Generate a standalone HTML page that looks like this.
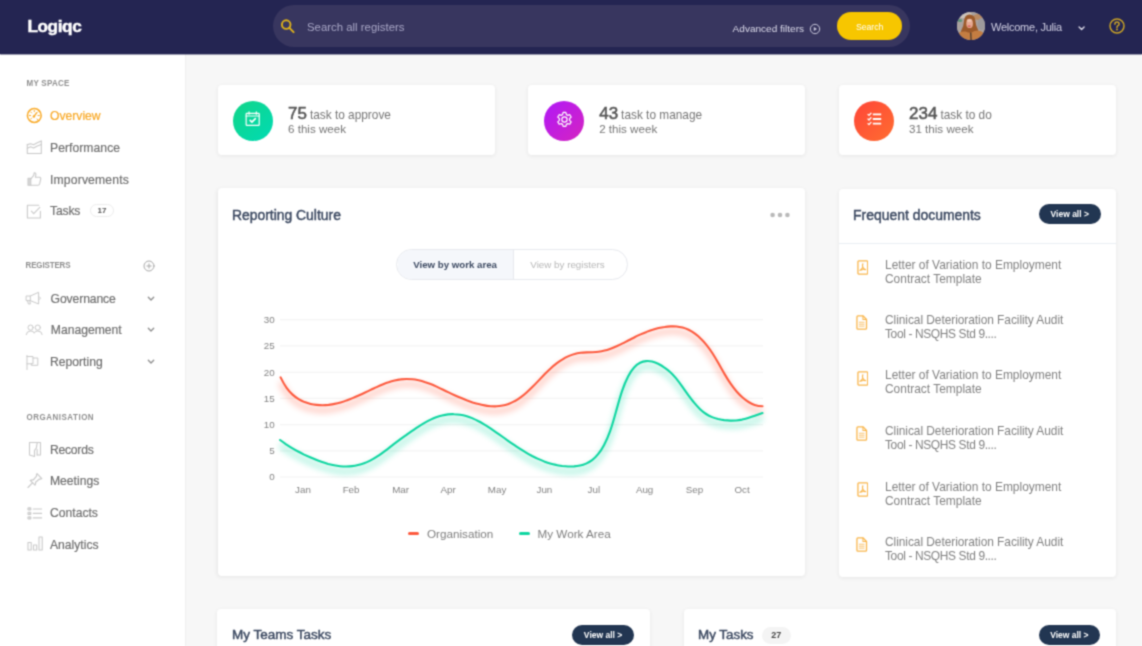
<!DOCTYPE html>
<html lang="en">
<head>
<meta charset="utf-8">
<title>Logiqc – Overview</title>
<style>
*{box-sizing:border-box;margin:0;padding:0}
html,body{width:1142px;height:646px;overflow:hidden;background:#fff}
body{font-family:"Liberation Sans",sans-serif;color:#7a7a7a}
ul{list-style:none}
h2,h6{font-weight:700}
.frame{position:absolute;left:0;top:0;width:1142px;height:646px;overflow:hidden;background:#f7f7f7}
.app{position:absolute;left:-10px;top:-10px;width:1162px;height:666px;overflow:hidden;background:#f7f7f7;filter:url(#soften)}
.stage{position:absolute;left:10px;top:10px;width:1142px;height:646px}
.corner{position:absolute;top:0;width:20px;height:20px}
.corner.tl{left:0;background:radial-gradient(circle at 20px 20px,rgba(255,255,255,0) 9.6px,#fff 10.4px)}
.corner.tr{right:0;background:radial-gradient(circle at 0 20px,rgba(255,255,255,0) 9.6px,#fff 10.4px)}
.abs{position:absolute;white-space:nowrap;line-height:1}

/* ---------- header ---------- */
.topbar{position:absolute;left:0;top:0;width:1142px;height:54px;background:#242552;box-shadow:0 1px 0 rgba(36,37,82,.45);z-index:2}
.topbar:before{content:"";position:absolute;left:-10px;top:-10px;width:1162px;height:64px;background:#242552}
.logo{left:27.4px;top:18px;font-size:17.2px;font-weight:700;color:#fff;letter-spacing:-.4px;-webkit-text-stroke:.45px #fff}
.search{position:absolute;left:273px;top:5px;width:637px;height:42px;border-radius:21px;background:#38365f}
.search svg.mag{position:absolute;left:7px;top:13px}
.search .ph{left:34px;top:17px;font-size:11.4px;color:#a9a7c6}
.search .adv{left:459.6px;top:18px;font-size:10.05px;color:#dcdbea;transform:translateY(.5px) scaleY(.88);transform-origin:0 85%}
.search svg.go{position:absolute;left:536px;top:17.5px}
.search .btn{position:absolute;left:564px;top:7px;width:65.3px;height:28px;border-radius:14px;background:#f7c600;color:#fff;font-size:8.7px;line-height:30px;text-align:center}
.avatar{position:absolute;left:957px;top:12px;width:28px;height:28px;border-radius:50%;overflow:hidden}
.welcome{left:991px;top:22px;font-size:11px;letter-spacing:-.25px;color:#cfcee2}
.topbar svg.chev{position:absolute;left:1078px;top:26px}
.topbar svg.help{position:absolute;left:1108px;top:17px}

/* ---------- sidebar ---------- */
.side{position:absolute;left:0;top:54px;width:186px;height:592px;background:#fff;border-right:1px solid #efefef}
.side:before{content:"";position:absolute;left:-10px;top:0;width:10px;height:602px;background:#fff}
.side:after{content:"";position:absolute;left:0;top:592px;width:185px;height:10px;background:#fff}
.side h6{position:absolute;left:26.5px;font-size:8px;letter-spacing:.6px;color:#8f8f8f;line-height:1;white-space:nowrap;transform:translateY(.3px) scaleY(1.2);transform-origin:0 55%}
.side li{position:absolute;left:0;width:185px;height:32px}
.side li svg{position:absolute;left:25px;top:7px}
.side li span.t{position:absolute;left:50px;top:10px;font-size:12.15px;line-height:1;color:#707070;white-space:nowrap;-webkit-text-stroke:.2px currentColor}
.side li.on span.t{color:#f8a825}
.side li svg.dn{left:147px;top:13px}
.side svg.plus{position:absolute;left:143px;top:206px}
.side .pill{position:absolute;left:90px;top:9px;width:24px;height:13px;border:1px solid #ececec;border-radius:7px;font-size:8px;font-weight:700;color:#555;text-align:center;line-height:11px}

/* ---------- cards ---------- */
.card{position:absolute;background:#fff;border-radius:4px;box-shadow:0 1px 4px rgba(0,0,0,.075)}
.stat{top:85px;width:277px;height:70px}
.stat .ic{position:absolute;left:15px;top:15.5px;width:40px;height:40px;border-radius:50%}
.stat .ic svg{position:absolute;left:12px;top:12px}
.stat .l1{left:70px;top:19.5px;font-size:17px;color:#585858;font-weight:400;-webkit-text-stroke:.55px #585858}
.stat .l1 span{font-size:11.85px;font-weight:400;color:#767676;margin-left:3px;-webkit-text-stroke:0}
.stat .l2{left:70px;top:38px;font-size:11.6px;color:#767676}
.ttl{font-size:13.6px;font-weight:400;color:#3d4a62;-webkit-text-stroke:.45px #3d4a62}
.viewall{position:absolute;width:61.5px;height:19.5px;border-radius:10px;background:#223652;color:#fff;font-size:8.5px;font-weight:700;line-height:21px;text-align:center;white-space:nowrap}
.badge{position:absolute;left:78px;top:18px;width:28.5px;height:17px;border-radius:8.5px;background:#f4f4f4;color:#444;font-size:9px;font-weight:700;line-height:17px;text-align:center}

/* ---------- chart ---------- */
#chart svg.dots{position:absolute;left:552px;top:24.3px;fill:#b9b9b9}
#chart svg.plot{position:absolute;left:0;top:0}
.toggle{position:absolute;left:178px;top:61px;width:232px;height:31px;border:1px solid #e7e9ee;border-radius:15.5px;overflow:hidden;font-size:10px;line-height:29px;white-space:nowrap}
.toggle span{position:absolute;top:0;height:29px;width:116px;text-align:center;font-size:9.8px}
.toggle .a{left:.6px;font-size:9.7px;background:#f5f7fb;border-right:1px solid #e7e9ee;color:#3d4a62;font-weight:700}
.toggle .b{left:113.5px;color:#b7b7b7;width:114px}
.legend{position:absolute;left:0;top:340px;width:587px;height:14px;font-size:11.7px;color:#7f7f7f}
.legend i{position:absolute;top:4.3px;width:11px;height:3px;border-radius:1.5px}

/* ---------- docs ---------- */
#docs:before{content:"";position:absolute;left:0;top:54px;width:277px;height:1px;background:#e9eef4}
.doclist li{position:absolute;left:0;width:277px;height:30px}
.doclist li svg{position:absolute;left:17px;top:.5px}
.doclist li p{position:absolute;left:46px;top:0;font-size:11.95px;line-height:14px;color:#828282;white-space:nowrap}

</style>
</head>
<body>
<svg width="0" height="0" style="position:absolute" aria-hidden="true"><defs><filter id="soften" x="0" y="0" width="100%" height="100%" color-interpolation-filters="sRGB"><feConvolveMatrix order="3" kernelMatrix="0.0400 0.1200 0.0400 0.1200 0.3600 0.1200 0.0400 0.1200 0.0400" divisor="1" edgeMode="duplicate" preserveAlpha="true"/></filter></defs></svg>
<div class="frame">
<div class="app">
<div class="stage">

<!-- HEADER -->
<header class="topbar">
  <div class="abs logo">Logiqc</div>
  <form class="search" onsubmit="return false">
    <svg class="mag" width="16" height="16" viewBox="0 0 16 16"><circle cx="6.2" cy="6.6" r="4.3" fill="none" stroke="#dcb01c" stroke-width="1.9"/><path d="M9.4 9.9 L13.6 14.1" stroke="#dcb01c" stroke-width="2" stroke-linecap="round"/></svg>
    <span class="abs ph">Search all registers</span>
    <span class="abs adv">Advanced filters</span>
    <svg class="go" width="12" height="12" viewBox="0 0 12 12"><circle cx="6" cy="6" r="4.7" fill="none" stroke="#c9c8dc" stroke-width="1"/><path d="M4.8 3.9 L8 6 L4.8 8.1 Z" fill="#c9c8dc"/></svg>
    <span class="btn">Search</span>
  </form>
  <div class="avatar">
    <svg width="28" height="28" viewBox="0 0 28 28">
      <defs><filter id="soft" x="-20%" y="-20%" width="140%" height="140%"><feGaussianBlur stdDeviation=".75"/></filter></defs>
      <rect width="28" height="28" fill="#a9a19d"/>
      <g filter="url(#soft)">
        <rect x="-2" y="-2" width="32" height="32" fill="#aaa29f"/>
        <ellipse cx="8" cy="3" rx="7" ry="3.5" fill="#cbc3bb"/>
        <ellipse cx="21" cy="5" rx="5" ry="3" fill="#b98a62"/>
        <ellipse cx="3" cy="8.500" rx="2.200" ry="1.600" fill="#5e957a"/>
        <ellipse cx="24.500" cy="12" rx="4" ry="6" fill="#9d9a9c"/>
        <path d="M12.600 2.600 Q7.400 2.800 7 9 Q6.800 14 4.200 18.500 Q3 21 5.500 22 L20 22 Q22.500 20 20.500 16.500 Q18.600 13 18.400 9 Q18 2.800 12.600 2.600Z" fill="#9c5a2b"/>
        <path d="M-1 29 L0 22.500 Q3 18.800 8.500 19.600 Q13 22 17.500 19 Q23.500 17.500 27 21.500 L29 29Z" fill="#c37d42"/>
        <ellipse cx="12.600" cy="11.400" rx="3.300" ry="4.700" fill="#e6aa94"/>
        <ellipse cx="12.300" cy="8.400" rx="2.600" ry="1.500" fill="#efc3ae"/>
        <ellipse cx="12.200" cy="14.300" rx="1.700" ry="1" fill="#d9675f"/>
        <path d="M13.700 20.500 L14.100 28" stroke="#4b3a2e" stroke-width="1.300" fill="none"/>
      </g>
    </svg>
  </div>
  <div class="abs welcome">Welcome, Julia</div>
  <svg class="chev" width="7.2" height="5.4" viewBox="0 0 8 6"><path d="M1.2 1.2 L4 4 L6.8 1.2" fill="none" stroke="#d8d7e6" stroke-width="1.5" stroke-linecap="round" stroke-linejoin="round"/></svg>
  <svg class="help" width="18" height="18" viewBox="0 0 18 18"><circle cx="9" cy="9" r="7" fill="none" stroke="#c9a227" stroke-width="1.5"/><path d="M6.9 7.2 Q6.9 5.1 9 5.1 Q11.1 5.1 11.1 6.9 Q11.1 8.1 9.9 8.7 Q9 9.2 9 10.4" fill="none" stroke="#c9a227" stroke-width="1.5" stroke-linecap="round"/><circle cx="9" cy="12.6" r="1" fill="#c9a227"/></svg>
</header>

<!-- SIDEBAR -->
<nav class="side">
  <h6 style="top:25px;letter-spacing:.25px">MY SPACE</h6>
  <ul>
    <li class="on" style="top:46px"><svg width="18" height="18" viewBox="0 0 18 18" fill="none" stroke="#f9ab2a" stroke-width="1.5" stroke-linecap="round" stroke-linejoin="round"><circle cx="9.3" cy="8.500" r="6.900"/><path d="M9 9.300 L11.600 5.800" stroke-width="1.400"/><circle cx="8.900" cy="9.400" r="1.250" fill="#f9ab2a" stroke="none"/><path d="M4.300 8.500h1.300M13 8.500h1.300M9.300 3.500v1.200M5.700 5l.9.900M5.700 12l.9-.9M12 12l.9.900M12.600 5.300l.4-.400" stroke-width="1"/></svg><span class="t">Overview</span></li>
    <li style="top:78px"><svg style="top:6.400px" width="18" height="18" viewBox="0 0 18 18" fill="none" stroke="#cacaca" stroke-width="1.1" stroke-linecap="round" stroke-linejoin="round"><path d="M2.300 6.500v9h14V3"/><path d="M2.300 6.600 L5.600 5.700 L8.600 6.800 L12.300 4.800 L16.300 3" /><path d="M2.300 10.200 L5.600 8.800 L8.600 10 L12.300 8 L16.300 6.600"/></svg><span class="t" style="letter-spacing:.05px">Performance</span></li>
    <li style="top:110px"><svg style="top:6.300px" width="18" height="18" viewBox="0 0 18 18" fill="none" stroke="#cacaca" stroke-width="1.1" stroke-linecap="round" stroke-linejoin="round"><path d="M3 8.300h2.800v7H3z" fill="#d6d6d6"/><path d="M5.800 8.800 L8.600 5.600 L9.200 2.800 Q10.900 2.500 10.900 4.500 L10.400 7.300 H14.600 Q16.100 7.600 15.700 9.200 L14.600 13.900 Q14.200 15.300 12.900 15.300 H5.800"/></svg><span class="t" style="letter-spacing:.17px">Imporvements</span></li>
    <li style="top:141px"><svg width="18" height="18" viewBox="0 0 18 18" fill="none" stroke="#cacaca" stroke-width="1.1" stroke-linecap="round" stroke-linejoin="round"><path d="M15.400 9.300V16H2.400V3.200h11.400"/><path d="M6.400 9.200 L8.700 11.700 L14.800 5.400"/></svg><span class="t" style="letter-spacing:-.15px">Tasks</span><span class="pill">17</span></li>
  </ul>
  <h6 style="top:207px;letter-spacing:-.15px;left:25.5px">REGISTERS</h6>
  <svg class="plus" width="12" height="12" viewBox="0 0 12 12" fill="none" stroke="#a9a9a9" stroke-width="1" stroke-linecap="round"><circle cx="6" cy="6" r="5"/><path d="M6 3.8v4.4M3.8 6h4.4"/></svg>
  <ul>
    <li style="top:229px"><svg style="top:6.300px" width="18" height="18" viewBox="0 0 18 18" fill="none" stroke="#cacaca" stroke-width="1" stroke-linecap="round" stroke-linejoin="round"><path d="M1.500 7h3.800v4.600H1.500z"/><path d="M5.300 7 L13.600 3.300 V15 L5.300 11.600"/><path d="M14.800 8 Q16.200 9.200 14.800 10.400"/><path d="M2.600 11.800 L3.400 15 H5.300 L4.900 11.800"/></svg><span class="t" style="left:50.6px;letter-spacing:-.1px">Governance</span><svg class="dn" width="8" height="6" viewBox="0 0 8 6"><path d="M1.3 1.3 L4 4 L6.7 1.3" fill="none" stroke="#8d8d8d" stroke-width="1.3" stroke-linecap="round" stroke-linejoin="round"/></svg></li>
    <li style="top:260px"><svg width="18" height="18" viewBox="0 0 18 18" fill="none" stroke="#cacaca" stroke-width="1" stroke-linecap="round" stroke-linejoin="round"><circle cx="5.6" cy="6.6" r="2.6"/><circle cx="12.8" cy="6.6" r="2.6"/><path d="M1.2 13.6 Q1.6 10 5.6 10 Q9 10 9.2 12.2 Q9.6 10 12.8 10 Q16.8 10 17.2 13.6"/></svg><span class="t" style="left:50.8px">Management</span><svg class="dn" width="8" height="6" viewBox="0 0 8 6"><path d="M1.3 1.3 L4 4 L6.7 1.3" fill="none" stroke="#8d8d8d" stroke-width="1.3" stroke-linecap="round" stroke-linejoin="round"/></svg></li>
    <li style="top:292px"><svg width="18" height="18" viewBox="0 0 18 18" fill="none" stroke="#cacaca" stroke-width="1" stroke-linecap="round" stroke-linejoin="round"><path d="M2 2.5v14"/><path d="M2 3.5h6v7.3H2"/><path d="M8 5h4.8v7.3H6.3v-1.5"/></svg><span class="t">Reporting</span><svg class="dn" width="8" height="6" viewBox="0 0 8 6"><path d="M1.3 1.3 L4 4 L6.7 1.3" fill="none" stroke="#8d8d8d" stroke-width="1.3" stroke-linecap="round" stroke-linejoin="round"/></svg></li>
  </ul>
  <h6 style="top:359px;letter-spacing:.5px">ORGANISATION</h6>
  <ul>
    <li style="top:380px"><svg style="left:25.700px;top:6.300px" width="18" height="18" viewBox="0 0 18 18" fill="none" stroke="#cacaca" stroke-width="1.1" stroke-linecap="round" stroke-linejoin="round"><path d="M3.500 2.500h11v12.500h-3.400"/><path d="M3.500 2.500v12.500l5 1.500v-6l1.800-2.400 L11.200 2.800"/><path d="M11.100 15V9.500"/></svg><span class="t" style="letter-spacing:-.25px">Records</span></li>
    <li style="top:411px"><svg style="left:26.400px;top:6px" width="18" height="18" viewBox="0 0 18 18" fill="none" stroke="#cacaca" stroke-width="1.15" stroke-linecap="round" stroke-linejoin="round"><path d="M2 16.500 L6.600 11.600"/><path d="M4.200 9.400 L9 14.200 Q9.900 12.600 9.600 11.200 L13.400 8 Q14.600 8.400 15.800 7.600 L11 2.600 Q10 3.800 10.600 5.200 L7.200 9 Q5.600 8.600 4.200 9.400Z"/></svg><span class="t">Meetings</span></li>
    <li style="top:443px"><svg style="left:26px;top:6.800px" width="18" height="18" viewBox="0 0 18 18" fill="none" stroke="#cacaca" stroke-width="1.1" stroke-linecap="round" stroke-linejoin="round"><path d="M2.300 3.800h2.600v2.200H2.300zM2.300 8.300h2.600v2.200H2.300zM2.300 12.800h2.600v2.200H2.300z" stroke-width="1" fill="#d9d9d9"/><path d="M7.300 5h8.300M7.300 9.400h8.300M7.300 13.900h8.300"/></svg><span class="t">Contacts</span></li>
    <li style="top:475px"><svg style="left:26px;top:5px" width="18" height="18" viewBox="0 0 18 18" fill="none" stroke="#cacaca" stroke-width="1.1" stroke-linecap="round" stroke-linejoin="round"><path d="M2 8.500h3.200v7.500H2zM7.500 11h3.200v5H7.500zM13 3h3.200v13H13z"/></svg><span class="t">Analytics</span></li>
  </ul>
</nav>

<!-- MAIN -->
<main>
  <section class="card stat" style="left:218px">
    <div class="ic" style="background:linear-gradient(135deg,#12d588,#00dbb4)"><svg style="left:12.3px;top:10.8px" width="15.36" height="15.36" viewBox="0 0 16 16" fill="none" stroke="#ffffff" stroke-width="1.25" stroke-linecap="round" stroke-linejoin="round"><rect x="1.2" y="2.4" width="13.6" height="12.6" rx=".8"/><path d="M1.2 5.2h13.6M4.2 1v2.4M11.8 1v2.4"/><path d="M5.4 9.8 L7.2 11.6 L10.8 8" stroke-width="1.7"/></svg></div>
    <div class="abs l1">75<span>task to approve</span></div>
    <div class="abs l2">6 this week</div>
  </section>
  <section class="card stat" style="left:528.2px">
    <div class="ic" style="left:16px;background:linear-gradient(135deg,#b018f8,#d524c0)"><svg style="left:12.2px;top:10.9px" width="16.96" height="16.96" viewBox="0 0 16 16" fill="none" stroke="#ffffff" stroke-width="1.15" stroke-linecap="round" stroke-linejoin="round"><circle cx="8" cy="8" r="2.5"/><path d="M6.7 1.4h2.6l.5 2 1.2.7 2-.6 1.3 2.2-1.5 1.5v1.6l1.5 1.5-1.3 2.2-2-.6-1.2.7-.5 2H6.700l-.5-2-1.2-.7-2 .6-1.300-2.200 1.500-1.500V7.200L1.700 5.700 3 3.500l2 .6 1.200-.7z"/></svg></div>
    <div class="abs l1" style="left:71px">43<span>task to manage</span></div>
    <div class="abs l2" style="left:71px">2 this week</div>
  </section>
  <section class="card stat" style="left:839px">
    <div class="ic" style="background:linear-gradient(135deg,#ff4538,#ff6d30)"><svg style="left:12.7px;top:10.6px" width="16" height="16" viewBox="0 0 16 16" fill="none" stroke="#ffffff" stroke-width="1.2" stroke-linecap="round" stroke-linejoin="round"><path d="M5.800 3.400h8.400M5.800 8h8.400M5.800 12.600h8.400" stroke-width="1.800" stroke-linecap="butt"/><path d="M1 3.400l1 1 2-2.200M1 8l1 1 2-2.200M1 12.600l1 1 2-2.200" stroke-width="1.300"/></svg></div>
    <div class="abs l1">234<span>task to do</span></div>
    <div class="abs l2">31 this week</div>
  </section>

  <section class="card" id="chart" style="left:218px;top:188px;width:587px;height:388px;box-shadow:-.5px 1px 4px rgba(0,0,0,.075)">
    <h2 class="abs ttl" style="left:14px;top:21px;font-size:13.9px">Reporting Culture</h2>
    <svg class="dots" width="20" height="6" viewBox="0 0 20 6"><circle cx="2.6" cy="3" r="2.3"/><circle cx="10" cy="3" r="2.3"/><circle cx="17.4" cy="3" r="2.3"/></svg>
    <div class="toggle"><span class="a">View by work area</span><span class="b">View by registers</span></div>
    <svg class="plot" width="587" height="388" viewBox="0 0 587 388">
      <defs>
        <filter id="glow" x="-5%" y="-30%" width="110%" height="180%"><feGaussianBlur stdDeviation="3.2"/></filter>
      </defs>
      <g font-family="Liberation Sans, sans-serif" font-size="9.8" fill="#838383">
      <line x1="62" y1="131.6" x2="545" y2="131.6" stroke="#f4f4f4" stroke-width="1.2"/>
      <text x="56.7" y="134.8" text-anchor="end">30</text>
      <line x1="62" y1="157.9" x2="545" y2="157.9" stroke="#f4f4f4" stroke-width="1.2"/>
      <text x="56.7" y="161.1" text-anchor="end">25</text>
      <line x1="62" y1="184.3" x2="545" y2="184.3" stroke="#f4f4f4" stroke-width="1.2"/>
      <text x="56.7" y="187.5" text-anchor="end">20</text>
      <line x1="62" y1="210.4" x2="545" y2="210.4" stroke="#f4f4f4" stroke-width="1.2"/>
      <text x="56.7" y="213.6" text-anchor="end">15</text>
      <line x1="62" y1="236.6" x2="545" y2="236.6" stroke="#f4f4f4" stroke-width="1.2"/>
      <text x="56.7" y="239.8" text-anchor="end">10</text>
      <line x1="62" y1="262.8" x2="545" y2="262.8" stroke="#f4f4f4" stroke-width="1.2"/>
      <text x="56.7" y="266.0" text-anchor="end">5</text>
      <line x1="62" y1="289.0" x2="545" y2="289.0" stroke="#f4f4f4" stroke-width="1.2"/>
      <text x="56.7" y="292.2" text-anchor="end">0</text>
      <text x="85" y="305.3" text-anchor="middle">Jan</text>
      <text x="133.1" y="305.3" text-anchor="middle">Feb</text>
      <text x="182.6" y="305.3" text-anchor="middle">Mar</text>
      <text x="230.1" y="305.3" text-anchor="middle">Apr</text>
      <text x="279.1" y="305.3" text-anchor="middle">May</text>
      <text x="326.4" y="305.3" text-anchor="middle">Jun</text>
      <text x="375.8" y="305.3" text-anchor="middle">Jul</text>
      <text x="426.6" y="305.3" text-anchor="middle">Aug</text>
      <text x="476.4" y="305.3" text-anchor="middle">Sep</text>
      <text x="524" y="305.3" text-anchor="middle">Oct</text>
      </g>
      <path d="M62.6 189.4 C64.6 193.6 66.6 197.0 68.6 199.8 C70.6 202.6 72.6 204.8 74.6 206.6 C76.6 208.4 78.6 209.9 80.6 211.1 C82.6 212.3 84.6 213.3 86.6 214.1 C88.6 214.8 90.6 215.4 92.6 215.9 C94.6 216.4 96.6 216.7 98.6 216.9 C100.6 217.1 102.6 217.2 104.6 217.2 C106.6 217.2 108.6 217.1 110.6 216.9 C112.6 216.6 114.6 216.3 116.6 215.9 C118.6 215.5 120.6 215.0 122.6 214.4 C124.6 213.8 126.6 213.2 128.6 212.4 C130.6 211.7 132.6 210.9 134.6 210.1 C136.6 209.3 138.6 208.4 140.6 207.5 C142.6 206.6 144.6 205.7 146.6 204.7 C148.6 203.8 150.6 202.9 152.6 201.9 C154.6 201.0 156.6 200.0 158.6 199.1 C160.6 198.2 162.6 197.3 164.6 196.5 C166.6 195.7 168.6 194.9 170.6 194.3 C172.6 193.6 174.6 193.0 176.6 192.5 C178.6 192.0 180.6 191.6 182.6 191.4 C184.6 191.1 186.6 191.0 188.6 191.0 C190.6 191.0 192.6 191.1 194.6 191.3 C196.6 191.5 198.6 191.9 200.6 192.3 C202.6 192.7 204.6 193.2 206.6 193.9 C208.6 194.5 210.6 195.2 212.6 196.0 C214.6 196.8 216.6 197.7 218.6 198.6 C220.6 199.6 222.6 200.6 224.6 201.5 C226.6 202.5 228.6 203.5 230.6 204.4 C232.6 205.4 234.6 206.3 236.6 207.2 C238.6 208.1 240.6 209.0 242.6 209.8 C244.6 210.7 246.6 211.5 248.6 212.3 C250.6 213.0 252.6 213.7 254.6 214.4 C256.6 215.0 258.6 215.6 260.6 216.1 C262.6 216.7 264.6 217.1 266.6 217.4 C268.6 217.8 270.6 218.0 272.6 218.2 C274.6 218.3 276.6 218.4 278.6 218.3 C280.6 218.2 282.6 217.9 284.6 217.5 C286.6 217.2 288.6 216.6 290.6 215.9 C292.6 215.2 294.6 214.3 296.6 213.2 C298.6 212.2 300.6 210.9 302.6 209.4 C304.6 207.9 306.6 206.3 308.6 204.5 C310.6 202.7 312.6 200.8 314.6 198.8 C316.6 196.8 318.6 194.7 320.6 192.6 C322.6 190.5 324.6 188.4 326.6 186.3 C328.6 184.3 330.6 182.3 332.6 180.5 C334.6 178.6 336.6 176.9 338.6 175.4 C340.6 173.9 342.6 172.5 344.6 171.3 C346.6 170.0 348.6 169.0 350.6 168.1 C352.6 167.2 354.6 166.4 356.6 165.9 C358.6 165.3 360.6 165.0 362.6 164.8 C364.6 164.6 366.6 164.5 368.6 164.4 C370.6 164.4 372.6 164.4 374.6 164.3 C376.6 164.2 378.6 164.1 380.6 163.8 C382.6 163.5 384.6 163.1 386.6 162.6 C388.6 162.1 390.6 161.4 392.6 160.7 C394.6 160.0 396.6 159.1 398.6 158.2 C400.6 157.3 402.6 156.4 404.6 155.4 C406.6 154.4 408.6 153.3 410.6 152.3 C412.6 151.3 414.6 150.2 416.6 149.2 C418.6 148.2 420.6 147.3 422.6 146.4 C424.6 145.5 426.6 144.6 428.6 143.9 C430.6 143.1 432.6 142.4 434.6 141.8 C436.6 141.1 438.6 140.6 440.6 140.1 C442.6 139.6 444.6 139.2 446.6 139.0 C448.6 138.7 450.6 138.5 452.6 138.4 C454.6 138.3 456.6 138.3 458.6 138.5 C460.6 138.7 462.6 139.1 464.6 139.6 C466.6 140.1 468.6 140.9 470.6 141.8 C472.6 142.8 474.6 144.0 476.6 145.4 C478.6 146.8 480.6 148.5 482.6 150.5 C484.6 152.4 486.6 154.6 488.6 157.1 C490.6 159.6 492.6 162.4 494.6 165.5 C496.6 168.6 498.6 172.0 500.6 175.5 C502.6 179.1 504.6 182.7 506.6 186.1 C508.6 189.5 510.6 192.8 512.6 195.7 C514.6 198.6 516.6 201.2 518.6 203.5 C520.6 205.8 522.6 207.8 524.6 209.5 C526.6 211.3 528.6 212.8 530.6 214.0 C532.6 215.2 534.6 216.2 536.6 216.9 C539.2 217.8 541.9 218.2 544.5 218.2" fill="none" stroke="#ff5a3c" stroke-width="5" opacity=".33" transform="translate(0,5)" filter="url(#glow)"/>
      <path d="M62.1 252.0 C64.1 253.5 66.1 254.9 68.1 256.3 C70.1 257.6 72.1 258.9 74.1 260.1 C76.1 261.3 78.1 262.5 80.1 263.5 C82.1 264.6 84.1 265.6 86.1 266.6 C88.1 267.5 90.1 268.4 92.1 269.3 C94.1 270.2 96.1 271.0 98.1 271.8 C100.1 272.6 102.1 273.3 104.1 274.0 C106.1 274.7 108.1 275.3 110.1 275.9 C112.1 276.4 114.1 276.9 116.1 277.3 C118.1 277.7 120.1 278.0 122.1 278.2 C124.1 278.4 126.1 278.5 128.1 278.5 C130.1 278.5 132.1 278.4 134.1 278.1 C136.1 277.9 138.1 277.5 140.1 277.0 C142.1 276.5 144.1 275.9 146.1 275.2 C148.1 274.5 150.1 273.6 152.1 272.6 C154.1 271.6 156.1 270.5 158.1 269.2 C160.1 268.0 162.1 266.6 164.1 265.1 C166.1 263.7 168.1 262.1 170.1 260.6 C172.1 259.0 174.1 257.4 176.1 255.9 C178.1 254.4 180.1 252.9 182.1 251.4 C184.1 249.9 186.1 248.5 188.1 247.1 C190.1 245.6 192.1 244.2 194.1 242.8 C196.1 241.5 198.1 240.1 200.1 238.8 C202.1 237.5 204.1 236.3 206.1 235.1 C208.1 234.0 210.1 232.9 212.1 231.9 C214.1 231.0 216.1 230.1 218.1 229.3 C220.1 228.6 222.1 228.0 224.1 227.5 C226.1 227.0 228.1 226.6 230.1 226.4 C232.1 226.2 234.1 226.1 236.1 226.2 C238.1 226.2 240.1 226.4 242.1 226.7 C244.1 227.0 246.1 227.4 248.1 228.0 C250.1 228.6 252.1 229.3 254.1 230.1 C256.1 231.0 258.1 231.9 260.1 233.0 C262.1 234.0 264.1 235.2 266.1 236.4 C268.1 237.6 270.1 238.9 272.1 240.2 C274.1 241.5 276.1 242.9 278.1 244.3 C280.1 245.7 282.1 247.1 284.1 248.5 C286.1 250.0 288.1 251.4 290.1 252.8 C292.1 254.2 294.1 255.6 296.1 256.9 C298.1 258.3 300.1 259.6 302.1 260.9 C304.1 262.2 306.1 263.4 308.1 264.6 C310.1 265.8 312.1 266.9 314.1 268.0 C316.1 269.0 318.1 270.0 320.1 270.9 C322.1 271.8 324.1 272.6 326.1 273.4 C328.1 274.1 330.1 274.8 332.1 275.4 C334.1 276.0 336.1 276.5 338.1 276.9 C340.1 277.4 342.1 277.7 344.1 278.0 C346.1 278.2 348.1 278.4 350.1 278.5 C352.1 278.6 354.1 278.5 356.1 278.4 C358.1 278.2 360.1 277.9 362.1 277.5 C364.1 277.1 366.1 276.5 368.1 275.6 C370.1 274.8 372.1 273.7 374.1 272.2 C376.1 270.7 378.1 268.7 380.1 266.2 C382.1 263.7 384.1 260.7 386.1 256.9 C388.1 253.2 390.1 248.8 392.1 243.2 C394.1 237.6 396.1 230.6 398.1 223.3 C400.1 216.1 402.1 208.8 404.1 202.9 C406.1 197.1 408.1 192.3 410.1 188.5 C412.1 184.6 414.1 181.7 416.1 179.5 C418.1 177.3 420.1 175.8 422.1 174.8 C424.1 173.8 426.1 173.3 428.1 173.1 C430.1 172.9 432.1 173.1 434.1 173.6 C436.1 174.1 438.1 174.8 440.1 175.8 C442.1 176.8 444.1 177.9 446.1 179.3 C448.1 180.6 450.1 182.1 452.1 184.0 C454.1 185.8 456.1 188.0 458.1 190.4 C460.1 192.9 462.1 195.6 464.1 198.4 C466.1 201.3 468.1 204.1 470.1 206.9 C472.1 209.6 474.1 212.3 476.1 214.7 C478.1 217.1 480.1 219.3 482.1 221.2 C484.1 223.1 486.1 224.7 488.1 226.0 C490.1 227.3 492.1 228.3 494.1 229.1 C496.1 229.9 498.1 230.5 500.1 231.0 C502.1 231.4 504.1 231.8 506.1 232.1 C508.1 232.3 510.1 232.5 512.1 232.6 C514.1 232.7 516.1 232.6 518.1 232.5 C520.1 232.3 522.1 232.0 524.1 231.6 C526.1 231.1 528.1 230.6 530.1 230.0 C532.1 229.4 534.1 228.8 536.1 228.1 C538.9 227.1 541.7 226.1 544.5 225.1" fill="none" stroke="#0fd8a2" stroke-width="5" opacity=".33" transform="translate(0,5)" filter="url(#glow)"/>
      <path d="M62.6 189.4 C64.6 193.6 66.6 197.0 68.6 199.8 C70.6 202.6 72.6 204.8 74.6 206.6 C76.6 208.4 78.6 209.9 80.6 211.1 C82.6 212.3 84.6 213.3 86.6 214.1 C88.6 214.8 90.6 215.4 92.6 215.9 C94.6 216.4 96.6 216.7 98.6 216.9 C100.6 217.1 102.6 217.2 104.6 217.2 C106.6 217.2 108.6 217.1 110.6 216.9 C112.6 216.6 114.6 216.3 116.6 215.9 C118.6 215.5 120.6 215.0 122.6 214.4 C124.6 213.8 126.6 213.2 128.6 212.4 C130.6 211.7 132.6 210.9 134.6 210.1 C136.6 209.3 138.6 208.4 140.6 207.5 C142.6 206.6 144.6 205.7 146.6 204.7 C148.6 203.8 150.6 202.9 152.6 201.9 C154.6 201.0 156.6 200.0 158.6 199.1 C160.6 198.2 162.6 197.3 164.6 196.5 C166.6 195.7 168.6 194.9 170.6 194.3 C172.6 193.6 174.6 193.0 176.6 192.5 C178.6 192.0 180.6 191.6 182.6 191.4 C184.6 191.1 186.6 191.0 188.6 191.0 C190.6 191.0 192.6 191.1 194.6 191.3 C196.6 191.5 198.6 191.9 200.6 192.3 C202.6 192.7 204.6 193.2 206.6 193.9 C208.6 194.5 210.6 195.2 212.6 196.0 C214.6 196.8 216.6 197.7 218.6 198.6 C220.6 199.6 222.6 200.6 224.6 201.5 C226.6 202.5 228.6 203.5 230.6 204.4 C232.6 205.4 234.6 206.3 236.6 207.2 C238.6 208.1 240.6 209.0 242.6 209.8 C244.6 210.7 246.6 211.5 248.6 212.3 C250.6 213.0 252.6 213.7 254.6 214.4 C256.6 215.0 258.6 215.6 260.6 216.1 C262.6 216.7 264.6 217.1 266.6 217.4 C268.6 217.8 270.6 218.0 272.6 218.2 C274.6 218.3 276.6 218.4 278.6 218.3 C280.6 218.2 282.6 217.9 284.6 217.5 C286.6 217.2 288.6 216.6 290.6 215.9 C292.6 215.2 294.6 214.3 296.6 213.2 C298.6 212.2 300.6 210.9 302.6 209.4 C304.6 207.9 306.6 206.3 308.6 204.5 C310.6 202.7 312.6 200.8 314.6 198.8 C316.6 196.8 318.6 194.7 320.6 192.6 C322.6 190.5 324.6 188.4 326.6 186.3 C328.6 184.3 330.6 182.3 332.6 180.5 C334.6 178.6 336.6 176.9 338.6 175.4 C340.6 173.9 342.6 172.5 344.6 171.3 C346.6 170.0 348.6 169.0 350.6 168.1 C352.6 167.2 354.6 166.4 356.6 165.9 C358.6 165.3 360.6 165.0 362.6 164.8 C364.6 164.6 366.6 164.5 368.6 164.4 C370.6 164.4 372.6 164.4 374.6 164.3 C376.6 164.2 378.6 164.1 380.6 163.8 C382.6 163.5 384.6 163.1 386.6 162.6 C388.6 162.1 390.6 161.4 392.6 160.7 C394.6 160.0 396.6 159.1 398.6 158.2 C400.6 157.3 402.6 156.4 404.6 155.4 C406.6 154.4 408.6 153.3 410.6 152.3 C412.6 151.3 414.6 150.2 416.6 149.2 C418.6 148.2 420.6 147.3 422.6 146.4 C424.6 145.5 426.6 144.6 428.6 143.9 C430.6 143.1 432.6 142.4 434.6 141.8 C436.6 141.1 438.6 140.6 440.6 140.1 C442.6 139.6 444.6 139.2 446.6 139.0 C448.6 138.7 450.6 138.5 452.6 138.4 C454.6 138.3 456.6 138.3 458.6 138.5 C460.6 138.7 462.6 139.1 464.6 139.6 C466.6 140.1 468.6 140.9 470.6 141.8 C472.6 142.8 474.6 144.0 476.6 145.4 C478.6 146.8 480.6 148.5 482.6 150.5 C484.6 152.4 486.6 154.6 488.6 157.1 C490.6 159.6 492.6 162.4 494.6 165.5 C496.6 168.6 498.6 172.0 500.6 175.5 C502.6 179.1 504.6 182.7 506.6 186.1 C508.6 189.5 510.6 192.8 512.6 195.7 C514.6 198.6 516.6 201.2 518.6 203.5 C520.6 205.8 522.6 207.8 524.6 209.5 C526.6 211.3 528.6 212.8 530.6 214.0 C532.6 215.2 534.6 216.2 536.6 216.9 C539.2 217.8 541.9 218.2 544.5 218.2" fill="none" stroke="#fd5b3f" stroke-width="2.1" stroke-linecap="round"/>
      <path d="M62.1 252.0 C64.1 253.5 66.1 254.9 68.1 256.3 C70.1 257.6 72.1 258.9 74.1 260.1 C76.1 261.3 78.1 262.5 80.1 263.5 C82.1 264.6 84.1 265.6 86.1 266.6 C88.1 267.5 90.1 268.4 92.1 269.3 C94.1 270.2 96.1 271.0 98.1 271.8 C100.1 272.6 102.1 273.3 104.1 274.0 C106.1 274.7 108.1 275.3 110.1 275.9 C112.1 276.4 114.1 276.9 116.1 277.3 C118.1 277.7 120.1 278.0 122.1 278.2 C124.1 278.4 126.1 278.5 128.1 278.5 C130.1 278.5 132.1 278.4 134.1 278.1 C136.1 277.9 138.1 277.5 140.1 277.0 C142.1 276.5 144.1 275.9 146.1 275.2 C148.1 274.5 150.1 273.6 152.1 272.6 C154.1 271.6 156.1 270.5 158.1 269.2 C160.1 268.0 162.1 266.6 164.1 265.1 C166.1 263.7 168.1 262.1 170.1 260.6 C172.1 259.0 174.1 257.4 176.1 255.9 C178.1 254.4 180.1 252.9 182.1 251.4 C184.1 249.9 186.1 248.5 188.1 247.1 C190.1 245.6 192.1 244.2 194.1 242.8 C196.1 241.5 198.1 240.1 200.1 238.8 C202.1 237.5 204.1 236.3 206.1 235.1 C208.1 234.0 210.1 232.9 212.1 231.9 C214.1 231.0 216.1 230.1 218.1 229.3 C220.1 228.6 222.1 228.0 224.1 227.5 C226.1 227.0 228.1 226.6 230.1 226.4 C232.1 226.2 234.1 226.1 236.1 226.2 C238.1 226.2 240.1 226.4 242.1 226.7 C244.1 227.0 246.1 227.4 248.1 228.0 C250.1 228.6 252.1 229.3 254.1 230.1 C256.1 231.0 258.1 231.9 260.1 233.0 C262.1 234.0 264.1 235.2 266.1 236.4 C268.1 237.6 270.1 238.9 272.1 240.2 C274.1 241.5 276.1 242.9 278.1 244.3 C280.1 245.7 282.1 247.1 284.1 248.5 C286.1 250.0 288.1 251.4 290.1 252.8 C292.1 254.2 294.1 255.6 296.1 256.9 C298.1 258.3 300.1 259.6 302.1 260.9 C304.1 262.2 306.1 263.4 308.1 264.6 C310.1 265.8 312.1 266.9 314.1 268.0 C316.1 269.0 318.1 270.0 320.1 270.9 C322.1 271.8 324.1 272.6 326.1 273.4 C328.1 274.1 330.1 274.8 332.1 275.4 C334.1 276.0 336.1 276.5 338.1 276.9 C340.1 277.4 342.1 277.7 344.1 278.0 C346.1 278.2 348.1 278.4 350.1 278.5 C352.1 278.6 354.1 278.5 356.1 278.4 C358.1 278.2 360.1 277.9 362.1 277.5 C364.1 277.1 366.1 276.5 368.1 275.6 C370.1 274.8 372.1 273.7 374.1 272.2 C376.1 270.7 378.1 268.7 380.1 266.2 C382.1 263.7 384.1 260.7 386.1 256.9 C388.1 253.2 390.1 248.8 392.1 243.2 C394.1 237.6 396.1 230.6 398.1 223.3 C400.1 216.1 402.1 208.8 404.1 202.9 C406.1 197.1 408.1 192.3 410.1 188.5 C412.1 184.6 414.1 181.7 416.1 179.5 C418.1 177.3 420.1 175.8 422.1 174.8 C424.1 173.8 426.1 173.3 428.1 173.1 C430.1 172.9 432.1 173.1 434.1 173.6 C436.1 174.1 438.1 174.8 440.1 175.8 C442.1 176.8 444.1 177.9 446.1 179.3 C448.1 180.6 450.1 182.1 452.1 184.0 C454.1 185.8 456.1 188.0 458.1 190.4 C460.1 192.9 462.1 195.6 464.1 198.4 C466.1 201.3 468.1 204.1 470.1 206.9 C472.1 209.6 474.1 212.3 476.1 214.7 C478.1 217.1 480.1 219.3 482.1 221.2 C484.1 223.1 486.1 224.7 488.1 226.0 C490.1 227.3 492.1 228.3 494.1 229.1 C496.1 229.9 498.1 230.5 500.1 231.0 C502.1 231.4 504.1 231.8 506.1 232.1 C508.1 232.3 510.1 232.5 512.1 232.6 C514.1 232.7 516.1 232.6 518.1 232.5 C520.1 232.3 522.1 232.0 524.1 231.6 C526.1 231.1 528.1 230.6 530.1 230.0 C532.1 229.4 534.1 228.8 536.1 228.1 C538.9 227.1 541.7 226.1 544.5 225.1" fill="none" stroke="#10d6a1" stroke-width="2.1" stroke-linecap="round"/>
    </svg>
    <div class="legend">
      <i style="left:190px;background:#fd5b3f"></i><span class="abs" style="left:209px">Organisation</span>
      <i style="left:301px;background:#10d6a1"></i><span class="abs" style="left:319.5px">My Work Area</span>
    </div>
  </section>

  <section class="card" id="docs" style="left:839px;top:189px;width:277px;height:388px">
    <h2 class="abs ttl" style="left:14px;top:20px;font-size:13.95px">Frequent documents</h2>
    <span class="viewall" style="left:200px;top:15px">View all &gt;</span>
    <ul class="doclist">
      <li style="top:69px"><svg style="left:17.500px;top:1.800px" width="11.656" height="15.04" viewBox="0 0 12.4 16" fill="none" stroke="#f9b54a" stroke-width="1.35" stroke-linecap="round" stroke-linejoin="round"><rect x="1" y="1" width="10.4" height="14" rx=".8"/><path d="M6.200 4 Q5.500 5.600 6.200 7.800 Q4.800 10.300 3.200 11 M6.200 7.800 Q7.400 10 9.200 10.300 Q6 9.800 3.600 10.800" stroke-width="1.250"/></svg><p style="top:0px">Letter of Variation to Employment<br>Contract Template</p></li>
      <li style="top:124.5px"><svg style="left:17.200px;top:1.600px" width="11.656" height="15.04" viewBox="0 0 12.4 16" fill="none" stroke="#f9b54a" stroke-width="1.35" stroke-linecap="round" stroke-linejoin="round"><path d="M1 2 Q1 1 2 1 H7.600 L11.200 4.600 V14 Q11.200 15 10.200 15 H2 Q1 15 1 14Z"/><path d="M7.400 1.200 V4.800 H11" stroke-width="1.100"/><path d="M3.500 7.700h5.200M3.500 9.800h5.200M3.500 11.900h5.200" stroke-width="1" opacity=".85"/></svg><p style="top:-0.5px;letter-spacing:-.06px">Clinical Deterioration Facility Audit<br><span style="letter-spacing:-.36px">Tool - NSQHS Std 9....</span></p></li>
      <li style="top:180px"><svg style="left:17.500px;top:1.800px" width="11.656" height="15.04" viewBox="0 0 12.4 16" fill="none" stroke="#f9b54a" stroke-width="1.35" stroke-linecap="round" stroke-linejoin="round"><rect x="1" y="1" width="10.4" height="14" rx=".8"/><path d="M6.200 4 Q5.500 5.600 6.200 7.800 Q4.800 10.300 3.200 11 M6.200 7.800 Q7.400 10 9.200 10.300 Q6 9.800 3.600 10.800" stroke-width="1.250"/></svg><p style="top:-1px">Letter of Variation to Employment<br>Contract Template</p></li>
      <li style="top:235.5px"><svg style="left:17.200px;top:1.600px" width="11.656" height="15.04" viewBox="0 0 12.4 16" fill="none" stroke="#f9b54a" stroke-width="1.35" stroke-linecap="round" stroke-linejoin="round"><path d="M1 2 Q1 1 2 1 H7.600 L11.200 4.600 V14 Q11.200 15 10.200 15 H2 Q1 15 1 14Z"/><path d="M7.400 1.200 V4.800 H11" stroke-width="1.100"/><path d="M3.500 7.700h5.200M3.500 9.800h5.200M3.500 11.900h5.200" stroke-width="1" opacity=".85"/></svg><p style="top:-0.5px;letter-spacing:-.06px">Clinical Deterioration Facility Audit<br><span style="letter-spacing:-.36px">Tool - NSQHS Std 9....</span></p></li>
      <li style="top:291px"><svg style="left:17.500px;top:1.800px" width="11.656" height="15.04" viewBox="0 0 12.4 16" fill="none" stroke="#f9b54a" stroke-width="1.35" stroke-linecap="round" stroke-linejoin="round"><rect x="1" y="1" width="10.4" height="14" rx=".8"/><path d="M6.200 4 Q5.500 5.600 6.200 7.800 Q4.800 10.300 3.200 11 M6.200 7.800 Q7.400 10 9.200 10.300 Q6 9.800 3.600 10.800" stroke-width="1.250"/></svg><p style="top:0px">Letter of Variation to Employment<br>Contract Template</p></li>
      <li style="top:346.5px"><svg style="left:17.200px;top:1.600px" width="11.656" height="15.04" viewBox="0 0 12.4 16" fill="none" stroke="#f9b54a" stroke-width="1.35" stroke-linecap="round" stroke-linejoin="round"><path d="M1 2 Q1 1 2 1 H7.600 L11.200 4.600 V14 Q11.200 15 10.200 15 H2 Q1 15 1 14Z"/><path d="M7.400 1.200 V4.800 H11" stroke-width="1.100"/><path d="M3.500 7.700h5.200M3.500 9.800h5.200M3.500 11.900h5.200" stroke-width="1" opacity=".85"/></svg><p style="top:-0.5px;letter-spacing:-.06px">Clinical Deterioration Facility Audit<br><span style="letter-spacing:-.36px">Tool - NSQHS Std 9....</span></p></li>
    </ul>
  </section>

  <section class="card" id="teams" style="left:217px;top:609px;width:433px;height:60px">
    <h2 class="abs ttl" style="left:15px;top:19px;font-size:13.5px">My Teams Tasks</h2>
    <span class="viewall" style="left:355.3px;top:16.4px">View all &gt;</span>
  </section>
  <section class="card" id="mine" style="left:684px;top:609px;width:432px;height:60px">
    <h2 class="abs ttl" style="left:14px;top:19px;font-size:13.4px">My Tasks</h2>
    <span class="badge">27</span>
    <span class="viewall" style="left:354.6px;top:16.4px">View all &gt;</span>
  </section>
</main>
</div>
<i class="corner tl"></i><i class="corner tr"></i>
</div>
</div>
</body>
</html>
